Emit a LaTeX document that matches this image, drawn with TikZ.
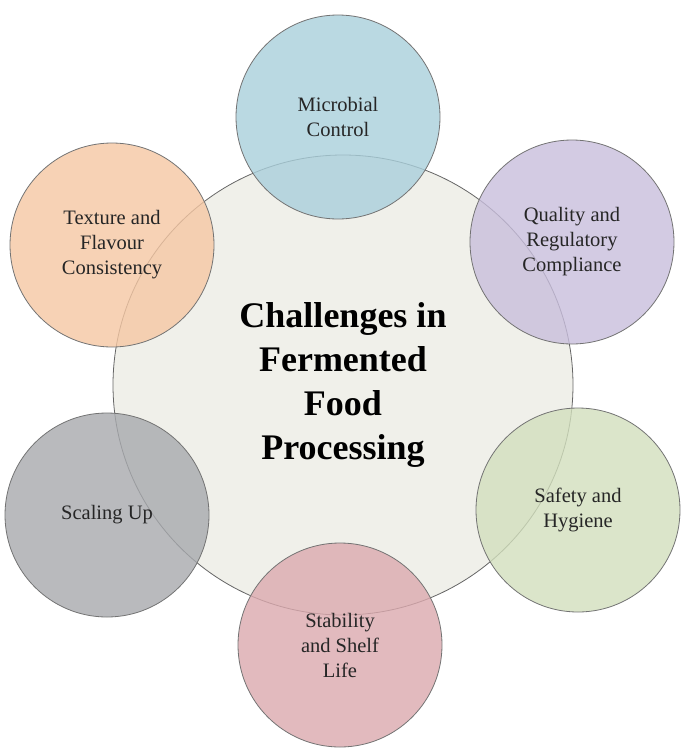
\documentclass[tikz,border=0pt]{standalone}
\usepackage{fontspec}
\setmainfont{Liberation Serif}
\definecolor{cb}{HTML}{A9CFDB}
\definecolor{cp}{HTML}{C8BEDC}
\definecolor{cg}{HTML}{D2DFBD}
\definecolor{ck}{HTML}{DBA9AE}
\definecolor{cy}{HTML}{A7A9AD}
\definecolor{co}{HTML}{F5C7A3}
\definecolor{cc}{HTML}{F0F0EA}
\begin{document}
\begin{tikzpicture}[x=1pt,y=-1pt,
  sat/.style={circle,minimum size=204pt,draw=black!55,line width=0.8pt,fill opacity=0.8,text opacity=1,align=center,font=\fontsize{20.5}{25}\selectfont,text=black!85},
  hub/.style={circle,minimum size=460pt,draw=black!60,line width=0.8pt,fill=cc}]
\useasboundingbox (0,0) rectangle (685,756);
\node[hub] (c) at (343,385) {};
\node[sat,fill=cb] (m) at (338,117) {Microbial\\Control};
\node[sat,fill=cp] (q) at (572,242) {Quality and\\Regulatory\\Compliance};
\node[sat,fill=cg] (s) at (578,510) {Safety and\\Hygiene};
\node[sat,fill=ck] (st) at (340,645) {Stability\\and Shelf\\Life};
\node[sat,fill=cy] (u) at (107,515) {Scaling Up};
\node[sat,fill=co] (t) at (112,245) {Texture and\\Flavour\\Consistency};
\node[align=center,font=\bfseries\fontsize{36}{44}\selectfont] (ct) at (c) {Challenges in\\Fermented\\Food\\Processing};
\end{tikzpicture}
\end{document}
